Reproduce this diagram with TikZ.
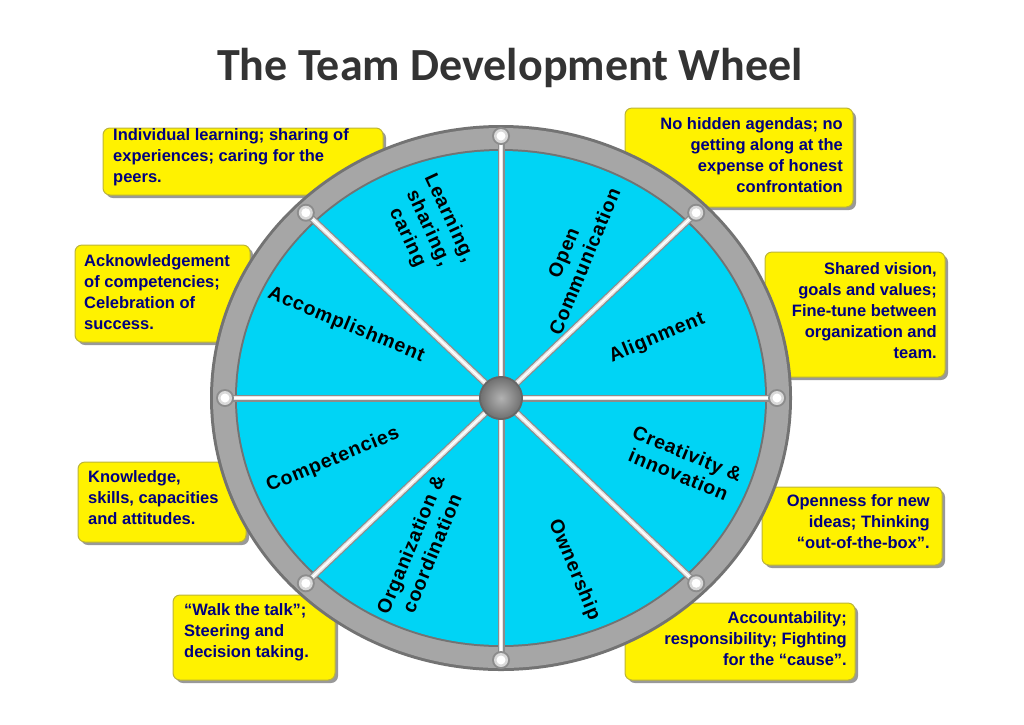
\documentclass[tikz,border=0pt]{standalone}
\usepackage{fontspec}
\usetikzlibrary{calc}
\setmainfont{Liberation Sans}
\newfontfamily\titlefont{Carlito}
\newfontfamily\segfont[LetterSpace=4]{Liberation Sans}
\definecolor{wheelcyan}{RGB}{0,212,245}
\begin{document}
\begin{tikzpicture}[x=1pt,y=-1pt,
 ybox/.style={draw=yellow!70!black,line width=1pt,fill=yellow,rounded corners=7pt,inner sep=4pt},
 btxt/.style={font=\bfseries\fontsize{16.5}{21}\selectfont,text=blue!50!black,inner sep=0pt},
 seg/.style={font=\segfont\bfseries\fontsize{19.5}{23}\selectfont,align=center,text=black}]
\useasboundingbox (0,0) rectangle (1024,724);
\node[font=\titlefont\bfseries\fontsize{46}{48}\selectfont,text=black!80] (title) at (510,68) {The Team Development Wheel};
\foreach \a/\b/\c/\d/\n in {103/128/383/195/b1,75/245/250/342/b2,625/108/853/207/b3,765/252/945/377/b4,78/462/246/542/b5,762/487/942/565/b6,173/595/335/680/b7,625/603/855/680/b8}{
 \fill[black!40,rounded corners=7pt] (\a+3,\b+3) rectangle (\c+3,\d+3);
 \draw[ybox] (\a,\b) rectangle (\c,\d);
}
\node[btxt,anchor=north west,align=left] (t1) at (113,128) {Individual learning; sharing of\\experiences; caring for the\\peers.};
\node[btxt,anchor=north west,align=left] (t2) at (84,254) {Acknowledgement\\of competencies;\\Celebration of\\success.};
\node[btxt,anchor=north east,align=right] (t3) at (843,117) {No hidden agendas; no\\getting along at the\\expense of honest\\confrontation};
\node[btxt,anchor=north east,align=right] (t4) at (937,262) {Shared vision,\\goals and values;\\Fine-tune between\\organization and\\team.};
\node[btxt,anchor=north west,align=left] (t5) at (88,470) {Knowledge,\\skills, capacities\\and attitudes.};
\node[btxt,anchor=north east,align=right] (t6) at (930,494) {Openness for new\\ideas; Thinking\\“out-of-the-box”.};
\node[btxt,anchor=north west,align=left] (t7) at (184,603) {“Walk the talk”;\\Steering and\\decision taking.};
\node[btxt,anchor=north east,align=right] (t8) at (847,611) {Accountability;\\responsibility; Fighting\\for the “cause”.};
\coordinate (c) at (501,398);
\fill[black!55] (c) ellipse [x radius=291,y radius=273];
\fill[black!35] (c) ellipse [x radius=288,y radius=270];
\fill[black!55] (c) ellipse [x radius=266,y radius=249];
\fill[wheelcyan] (c) ellipse [x radius=264,y radius=247];
\foreach \t in {0,45,...,315}{
 \coordinate (k\t) at ($(c)+({276*cos(\t)},{-262*sin(\t)})$);
 \draw[black!45,line width=7pt] (c) -- (k\t);
 \draw[white!90!black,line width=4.5pt] (c) -- (k\t);
 \draw[white,line width=1.5pt] (c) -- (k\t);
 \fill[black!45] (k\t) circle (9);
 \fill[white!85!black] (k\t) circle (7);
 \fill[white] (k\t) circle (4.5);
}
\fill[black!60] (c) circle (22);
\shade[inner color=black!30,outer color=black!55] (c) circle (20);
\node[seg,rotate=-65] (s1) at (428,228) {Learning,\\sharing,\\caring};
\node[seg,rotate=67.5] (s2) at (574,257) {Open\\Communication};
\node[seg,rotate=22.5] (s3) at (657,338) {Alignment};
\node[seg,rotate=-22.5] (s4) at (683,464) {Creativity \&\\innovation};
\node[seg,rotate=-67.5] (s5) at (574,570) {Ownership};
\node[seg,rotate=67.5] (s6) at (421,549) {Organization \&\\coordination};
\node[seg,rotate=22.5] (s7) at (333,460) {Competencies};
\node[seg,rotate=-22.5] (s8) at (346,325) {Accomplishment};
\end{tikzpicture}
\end{document}
